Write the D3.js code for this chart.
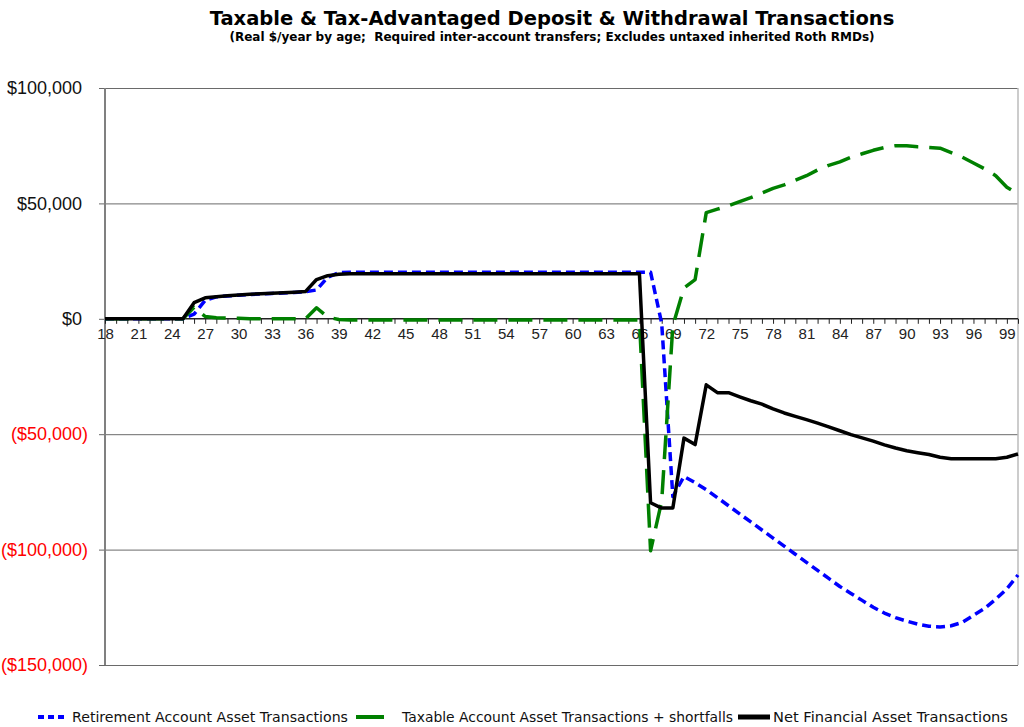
<!DOCTYPE html>
<html>

<head>
    <meta charset="utf-8">
    <style>
        body {
            margin: 0;
            background: #fff;
        }

        svg {
            display: block;
        }

        .x .domain,
        .y .domain,
        .grid .domain {
            display: none;
        }

        .x .tick line {
            stroke: #222;
        }

        .x .tick text {
            font-family: "Liberation Sans", Arial, sans-serif;
            font-size: 15px;
            fill: #222;
        }

        .y .tick line {
            stroke: #666;
        }

        .y .tick text {
            font-family: "Liberation Sans", Arial, sans-serif;
            font-size: 18px;
        }

        .grid .tick line {
            stroke: #6a6a6a;
        }

        .title {
            font-family: "DejaVu Sans", sans-serif;
            font-weight: bold;
            white-space: pre;
        }

        .legend text {
            font-family: "DejaVu Sans", sans-serif;
            font-size: 13.8px;
            fill: #111;
        }
    </style>
</head>

<body>
    <svg width="1024" height="727"></svg>

    <script src="https://d3js.org/d3.v7.min.js"></script>
    <script>
        // ages on the category axis
        let ages = d3.range(18, 101)
        let xLabels = [18, 21, 24, 27, 30, 33, 36, 39, 42, 45, 48, 51, 54, 57, 60, 63, 66, 69, 72, 75, 78, 81, 84, 87, 90, 93, 96, 99]
        let yTicks = [100000, 50000, 0, -50000, -100000, -150000]

        // values in $ thousands, age 18 .. 100
        let retirement = [
            0, 0, 0, 0, 0, 0, 0, 0,
            2, 8, 9.5, 9.9, 10.2, 10.5, 10.8, 11, 11.2, 11.4, 11.7, 12.5, 18, 20,
            20.2, 20.2, 20.2, 20.2, 20.2, 20.2, 20.2, 20.2, 20.2, 20.2, 20.2, 20.2, 20.2, 20.2, 20.2, 20.2, 20.2, 20.2, 20.2, 20.2, 20.2, 20.2, 20.2, 20.2, 20.2, 20.2, 20.2,
            20.2, -2, -77, -68.3, -71, -74, -77.5, -81, -84.5, -88, -91.5, -95, -98.5, -102, -105.5, -109, -112.5, -116,
            -119, -122, -125, -127.5, -129.5, -131, -132.3, -133.2, -133.5, -133, -131.5, -128.5, -125.5, -121.5, -117, -111
        ]

        let taxable = [
            0, 0, 0, 0, 0, 0, 0, 0,
            5, 1, 0.5, 0.3, 0.2, 0, 0, 0, 0, 0, 0, 4.8, 0.7, -0.3,
            -0.5, -0.5, -0.5, -0.5, -0.5, -0.5, -0.5, -0.5, -0.5, -0.5, -0.5, -0.5, -0.5, -0.5, -0.5, -0.5, -0.5, -0.5, -0.5, -0.5, -0.5, -0.5, -0.5, -0.5, -0.5, -0.5, -0.5,
            -100.5, -79, -3, 13.4, 17, 46, 47.5, 49, 50.8, 52.5, 54.5, 56.5, 58, 60, 62, 64.5, 66.5, 68,
            70, 71.5, 73, 74.2, 75, 75, 74.5, 74.2, 73.9, 72, 70, 67.5, 65, 62, 57, 54
        ]

        let net = [
            0, 0, 0, 0, 0, 0, 0, 0,
            7, 9.1, 9.6, 10, 10.3, 10.6, 10.9, 11.1, 11.3, 11.5, 11.8, 17, 18.7, 19.3,
            19.5, 19.5, 19.5, 19.5, 19.5, 19.5, 19.5, 19.5, 19.5, 19.5, 19.5, 19.5, 19.5, 19.5, 19.5, 19.5, 19.5, 19.5, 19.5, 19.5, 19.5, 19.5, 19.5, 19.5, 19.5, 19.5, 19.5,
            -79.7, -82, -82, -51.7, -54.5, -28.6, -32, -32, -33.8, -35.5, -37, -39, -40.8, -42.3, -43.7, -45.2, -46.8, -48.5,
            -50.2, -51.6, -53, -54.6, -56, -57.2, -58, -58.8, -60, -60.6, -60.6, -60.6, -60.6, -60.6, -60, -58.6
        ]

        let seriesNames = ["Retirement Account Asset Transactions", "Taxable Account Asset Transactions + shortfalls", "Net Financial Asset Transactions"]

        let svg = d3.select("svg")
        let margin = { top: 88, right: 6, bottom: 62, left: 105 }
        let width = 1024
        let height = 727

        let x = d3.scaleLinear()
            .domain([18, 100])
            .range([margin.left, width - margin.right])

        let y = d3.scaleLinear()
            .domain([-150000, 100000])
            .range([height - margin.bottom, margin.top])

        // titles
        svg.append("text")
            .attr("class", "title")
            .attr("x", 552)
            .attr("y", 25)
            .attr("text-anchor", "middle")
            .attr("font-size", 19.5)
            .text("Taxable & Tax-Advantaged Deposit & Withdrawal Transactions")

        svg.append("text")
            .attr("class", "title")
            .attr("x", 552)
            .attr("y", 41)
            .attr("text-anchor", "middle")
            .attr("font-size", 12)
            .text("(Real $/year by age;  Required inter-account transfers; Excludes untaxed inherited Roth RMDs)")

        // gridlines
        svg.append("g")
            .attr("class", "grid")
            .attr("transform", `translate(${margin.left},0)`)
            .call(d3.axisRight(y)
                .tickValues(yTicks.filter(d => d !== 0))
                .tickSize(x(100) - margin.left)
                .tickFormat(""))

        // right border of plot
        svg.append("line")
            .attr("x1", x(100)).attr("x2", x(100))
            .attr("y1", y(100000)).attr("y2", y(-150000))
            .attr("stroke", "#bbb")
            .attr("stroke-width", 1.5)

        // y axis, positive labels leave room for the ")"
        let yAxis = svg.append("g")
            .attr("class", "y axis")
            .attr("transform", `translate(${margin.left},0)`)
            .call(d3.axisLeft(y)
                .tickValues(yTicks)
                .tickSize(6)
                .tickPadding(11)
                .tickFormat(d => d < 0 ? "(" + d3.format("$,")(-d) + ")" : d3.format("$,")(d)))

        yAxis.selectAll(".tick text")
            .attr("fill", d => d < 0 ? "#ff0000" : "#111")
            .attr("dx", d => d < 0 ? 0 : -6)

        svg.append("line")
            .attr("x1", margin.left).attr("x2", margin.left)
            .attr("y1", y(100000)).attr("y2", y(-150000))
            .attr("stroke", "#808080")
            .attr("stroke-width", 2)

        // x axis at zero
        svg.append("g")
            .attr("class", "x axis")
            .attr("transform", `translate(0,${y(0)})`)
            .call(d3.axisBottom(x)
                .tickValues(ages)
                .tickSize(5)
                .tickPadding(5)
                .tickFormat(d => xLabels.includes(d) ? d : ""))

        svg.append("line")
            .attr("x1", margin.left).attr("x2", x(100))
            .attr("y1", y(0)).attr("y2", y(0))
            .attr("stroke", "#222")
            .attr("stroke-width", 1.5)

        // lines
        let line = d3.line()
            .x((d, i) => x(ages[i]))
            .y(d => y(d * 1000))

        let series = [
            { name: seriesNames[0], values: retirement, color: "#0000ff", dash: "9,5" },
            { name: seriesNames[1], values: taxable, color: "#008000", dash: "24,11" },
            { name: seriesNames[2], values: net, color: "#000000", dash: null }
        ]

        svg.append("g")
            .selectAll("path")
            .data(series)
            .join("path")
            .attr("d", d => line(d.values))
            .attr("fill", "none")
            .attr("stroke", d => d.color)
            .attr("stroke-width", 3.5)
            .attr("stroke-dasharray", d => d.dash)
            .attr("stroke-linejoin", "round")

        // legend
        let legend = svg.append("g").attr("class", "legend")
        let legendPos = [
            { x1: 38, x2: 68, tx: 72, len: 276, dash: "6,4", w: 4 },
            { x1: 356, x2: 384, tx: 402, len: 331, dash: null, w: 4 },
            { x1: 738, x2: 770, tx: 773, len: 235, dash: null, w: 5 }
        ]
        let ly = 717

        series.forEach((s, i) => {
            let p = legendPos[i]
            legend.append("line")
                .attr("x1", p.x1).attr("x2", p.x2)
                .attr("y1", ly).attr("y2", ly)
                .attr("stroke", s.color)
                .attr("stroke-width", p.w)
                .attr("stroke-dasharray", p.dash)
            legend.append("text")
                .attr("x", p.tx)
                .attr("y", ly + 5)
                .attr("textLength", p.len)
                .attr("lengthAdjust", "spacingAndGlyphs")
                .text(s.name)
        })
    </script>
</body>

</html>
